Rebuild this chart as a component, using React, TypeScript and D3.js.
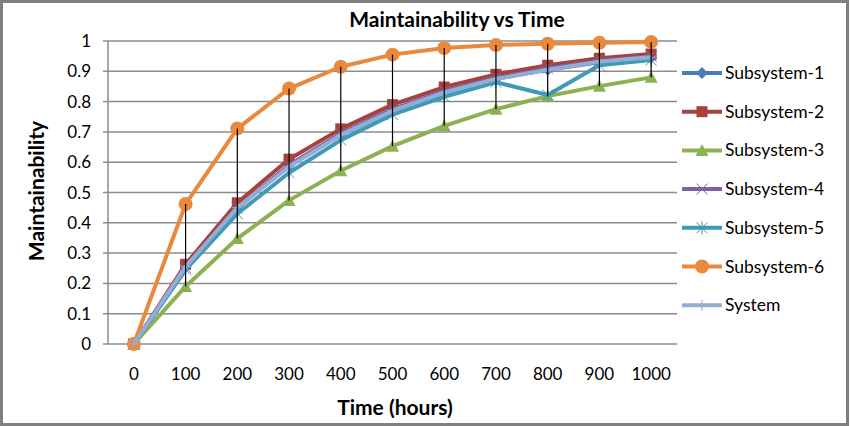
import React from 'react';
import * as d3 from 'd3';

const times = ['0', '100', '200', '300', '400', '500', '600', '700', '800', '900', '1000'];
const yTicks = [0, 0.1, 0.2, 0.3, 0.4, 0.5, 0.6, 0.7, 0.8, 0.9, 1];

const subsystem1 = [0, 0.255, 0.45, 0.59, 0.69, 0.77, 0.83, 0.875, 0.905, 0.93, 0.945];
const subsystem2 = [0, 0.263, 0.466, 0.61, 0.71, 0.79, 0.848, 0.89, 0.92, 0.943, 0.957];
const subsystem3 = [0, 0.19, 0.348, 0.474, 0.572, 0.653, 0.72, 0.775, 0.818, 0.851, 0.88];
const subsystem4 = [0, 0.252, 0.448, 0.59, 0.695, 0.775, 0.835, 0.878, 0.91, 0.934, 0.95];
const subsystem5 = [0, 0.245, 0.43, 0.565, 0.673, 0.757, 0.816, 0.864, 0.822, 0.92, 0.937];
const subsystem6 = [0, 0.462, 0.711, 0.843, 0.915, 0.955, 0.977, 0.987, 0.991, 0.994, 0.997];
const system = [0, 0.255, 0.45, 0.585, 0.69, 0.77, 0.83, 0.875, 0.905, 0.932, 0.946];

type Marker = 'diamond' | 'square' | 'triangle' | 'x' | 'star' | 'circle' | 'plus';

const series: { name: string; values: number[]; color: string; marker: Marker }[] = [
  { name: 'Subsystem-1', values: subsystem1, color: '#4A7EBB', marker: 'diamond' },
  { name: 'Subsystem-2', values: subsystem2, color: '#A8403E', marker: 'square' },
  { name: 'Subsystem-3', values: subsystem3, color: '#8DB152', marker: 'triangle' },
  { name: 'Subsystem-4', values: subsystem4, color: '#7D62A0', marker: 'x' },
  { name: 'Subsystem-5', values: subsystem5, color: '#3F9BB5', marker: 'star' },
  { name: 'Subsystem-6', values: subsystem6, color: '#E8893D', marker: 'circle' },
  { name: 'System', values: system, color: '#93AED6', marker: 'plus' },
];

const W = 850;
const H = 426;
const plot = { left: 108, right: 677, top: 41, bottom: 344 };
const font = 'Lato, "Open Sans", sans-serif';

function MarkerShape({ type, x, y, color }: { type: Marker; x: number; y: number; color: string }) {
  const s = 5.5;
  switch (type) {
    case 'diamond':
      return <path d={`M${x},${y - 6}L${x + 6},${y}L${x},${y + 6}L${x - 6},${y}Z`} fill={color} />;
    case 'square':
      return <rect x={x - 5.5} y={y - 5.5} width={11} height={11} fill={color} />;
    case 'triangle':
      return <path d={`M${x},${y - 6.5}L${x + 6.5},${y + 5.5}L${x - 6.5},${y + 5.5}Z`} fill={color} />;
    case 'x':
      return <path d={`M${x - s},${y - s}L${x + s},${y + s}M${x - s},${y + s}L${x + s},${y - s}`} stroke={color} strokeWidth={1} />;
    case 'star':
      return (
        <path
          d={`M${x - s},${y - s}L${x + s},${y + s}M${x - s},${y + s}L${x + s},${y - s}M${x},${y - s - 1}L${x},${y + s + 1}`}
          stroke={color}
          strokeWidth={1}
        />
      );
    case 'circle':
      return <circle cx={x} cy={y} r={7} fill={color} />;
    case 'plus':
      return <path d={`M${x - s},${y}L${x + s},${y}M${x},${y - s}L${x},${y + s}`} stroke={color} strokeWidth={1} />;
  }
}

export default function App() {
  const x = d3.scalePoint<string>().domain(times).range([plot.left, plot.right]).padding(0.5);
  const y = d3.scaleLinear().domain([0, 1]).range([plot.bottom, plot.top]);

  const line = d3
    .line<number>()
    .x((_, i) => x(times[i])!)
    .y((d) => y(d));

  // high-low lines: from the top series to the bottom one at each time
  const hiLo = times.map((t, i) => {
    const vals = series.map((s) => s.values[i]);
    return { t, hi: d3.max(vals)!, lo: d3.min(vals)! };
  });

  const legendY = (i: number) => 73 + i * 38.7;

  return (
    <svg width={W} height={H} style={{ position: 'absolute', left: 0, top: 0, background: '#fff' }} fontFamily={font}>
      <rect x={1.5} y={1.5} width={W - 4} height={H - 3} fill="#fff" stroke="#7f7f7f" strokeWidth={3} />

      <text x={457} y={27} textAnchor="middle" fontSize={21} fontWeight="bold" fill="#000">
        Maintainability vs Time
      </text>

      {yTicks.map((t) => (
        <g key={t}>
          <line x1={plot.left} x2={plot.right} y1={y(t)} y2={y(t)} stroke="#8c8c8c" strokeWidth={1.5} />
          <line x1={plot.left - 5} x2={plot.left} y1={y(t)} y2={y(t)} stroke="#8c8c8c" strokeWidth={1.5} />
          <text x={91} y={y(t) + 6} textAnchor="end" fontSize={17} fill="#000">
            {String(t)}
          </text>
        </g>
      ))}
      <line x1={plot.left} x2={plot.left} y1={plot.top} y2={plot.bottom} stroke="#8c8c8c" strokeWidth={1.5} />

      {times.map((t) => (
        <text key={t} x={x(t)!} y={380} textAnchor="middle" fontSize={17} fill="#000">
          {t}
        </text>
      ))}

      <text x={395} y={415} textAnchor="middle" fontSize={21} fontWeight="bold" fill="#000">
        Time (hours)
      </text>
      <text
        transform={`translate(44,191) rotate(-90)`}
        textAnchor="middle"
        fontSize={21}
        fontWeight="bold"
        fill="#000"
      >
        Maintainability
      </text>

      {series.map((s) => (
        <g key={s.name}>
          <path d={line(s.values)!} fill="none" stroke={s.color} strokeWidth={4} strokeLinejoin="round" />
          {s.values.map((v, i) => (
            <MarkerShape key={i} type={s.marker} x={x(times[i])!} y={y(v)} color={s.color} />
          ))}
        </g>
      ))}

      {hiLo.map((d) => (
        <line key={d.t} x1={x(d.t)!} x2={x(d.t)!} y1={y(d.hi)} y2={y(d.lo)} stroke="#000" strokeWidth={1.2} />
      ))}

      {series.map((s, i) => (
        <g key={s.name}>
          <line x1={682} x2={722} y1={legendY(i)} y2={legendY(i)} stroke={s.color} strokeWidth={4} />
          <MarkerShape type={s.marker} x={702} y={legendY(i)} color={s.color} />
          <text x={725} y={legendY(i) + 6} fontSize={17.5} fill="#000">
            {s.name}
          </text>
        </g>
      ))}
    </svg>
  );
}
